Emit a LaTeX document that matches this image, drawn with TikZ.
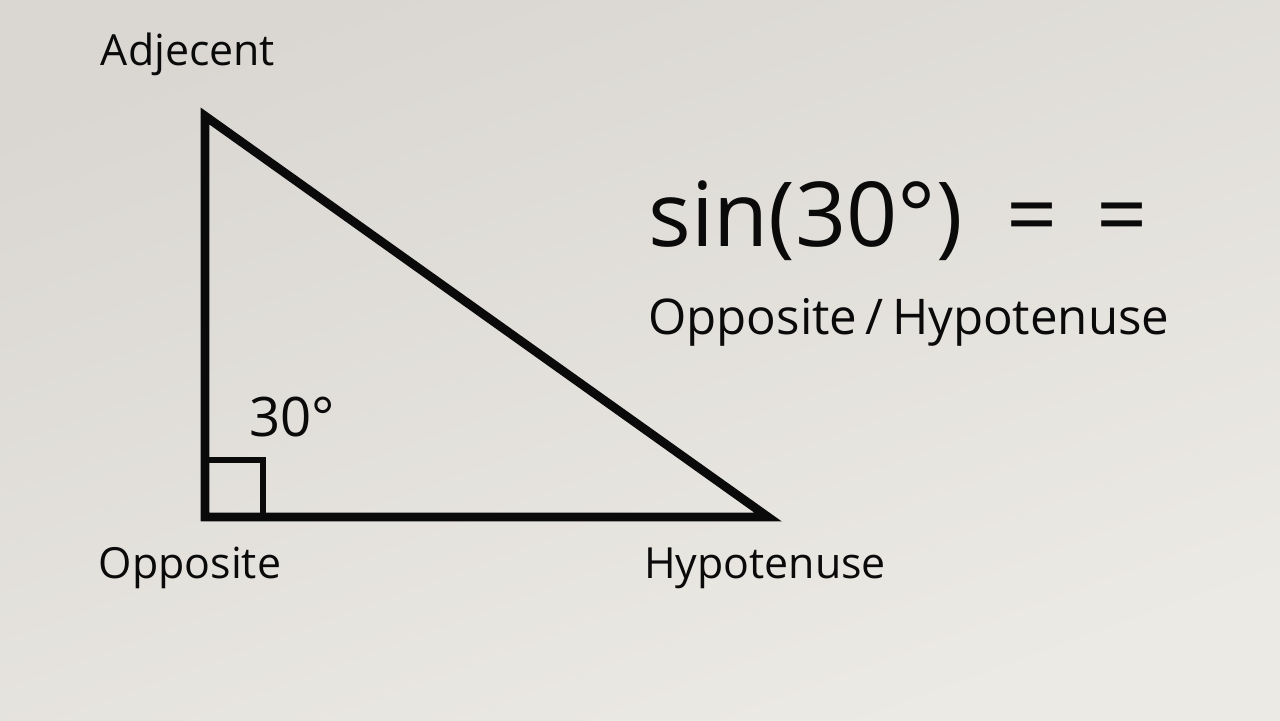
\documentclass[tikz,border=0pt]{standalone}
\usepackage{fontspec}
\setmainfont{Open Sans}
\usepackage{xcolor}
\usepackage{tikz}
\definecolor{ink}{HTML}{0A0A0A}
\definecolor{bglight}{HTML}{ECEAE5}
\definecolor{bgdark}{HTML}{DAD7D2}
\tikzset{
  edge/.style={draw=ink, line width=5pt, line join=miter},
  rightmark/.style={draw=ink, line width=3.4pt},
  lab/.style={text=ink, font=\fontsize{24.4}{28}\selectfont, inner sep=0pt},
  ang/.style={text=ink, font=\fontsize{31}{36}\selectfont, inner sep=0pt},
  big/.style={text=ink, font=\fontsize{51}{58}\selectfont, inner sep=0pt},
  mid/.style={text=ink, font=\fontsize{28}{34}\selectfont, inner sep=0pt},
}

\begin{document}
\begin{tikzpicture}[x=0.02cm,y=-0.02cm]
  % background
  \shade[top color=bgdark, bottom color=bglight, shading angle=20] (0,0) rectangle (1280,720);
  \useasboundingbox (0,0) rectangle (1280,720);
  \coordinate (A) at (205,116);
  \coordinate (B) at (205,517);
  \coordinate (C) at (768,517);
  \draw[edge] (A)--(B)--(C)--cycle;
  \draw[rightmark] (205,460) -| (263,517);
  \node[lab,anchor=base] (adj) at (188,65) {Adjecent};
  \node[lab,anchor=base] (opp) at (190,578) {Opposite};
  \node[lab,anchor=base] (hyp) at (765,578) {Hypotenuse};
  \node[ang,anchor=base] (deg) at (292,436) {30°};
  \node[big,anchor=base west] (sin) at (648,246) {sin(30°)\hspace{25pt}=\hspace{22pt}=};
  \node[mid,anchor=base west] (frac) at (648,334) {Opposite\,/\,Hypotenuse};
\end{tikzpicture}
\end{document}
